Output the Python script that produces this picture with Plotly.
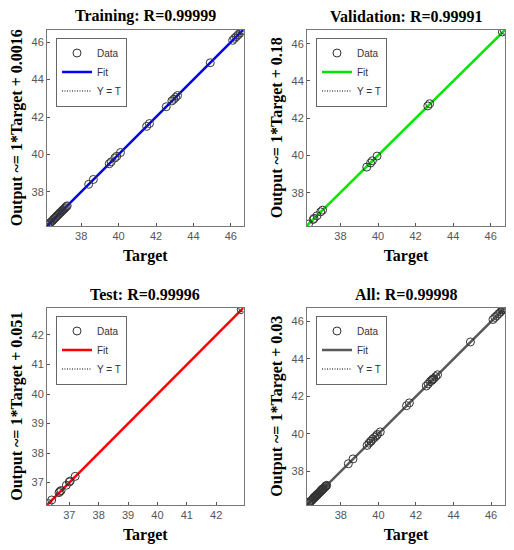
import plotly.graph_objects as go

# targets / outputs for each data split
train_t = [36.22, 36.3, 36.38, 36.45, 36.5, 36.55, 36.6, 36.65, 36.7, 36.75, 36.8, 36.85,
           36.9, 36.95, 37.0, 37.05, 37.1, 37.15, 37.2, 37.25, 38.4, 38.65, 39.5, 39.6,
           39.8, 39.9, 40.1, 41.5, 41.65, 42.55, 42.85, 42.95, 43.05, 43.15, 44.9,
           46.1, 46.2, 46.3, 46.4, 46.5, 46.6, 46.67]
train_o = [36.22, 36.31, 36.38, 36.44, 36.5, 36.56, 36.6, 36.65, 36.71, 36.75, 36.8, 36.86,
           36.9, 36.95, 37.01, 37.05, 37.1, 37.15, 37.21, 37.25, 38.4, 38.66, 39.5, 39.6,
           39.81, 39.9, 40.1, 41.5, 41.65, 42.55, 42.86, 42.95, 43.05, 43.15, 44.9,
           46.1, 46.21, 46.3, 46.4, 46.5, 46.6, 46.67]

val_t = [36.3, 36.55, 36.6, 36.75, 36.95, 37.05, 39.4, 39.6, 39.7, 39.95, 42.65, 42.75, 46.62, 46.72]
val_o = [36.32, 36.57, 36.63, 36.77, 36.98, 37.07, 39.38, 39.6, 39.72, 39.97, 42.66, 42.78, 46.63, 46.72]

test_t = [36.28, 36.4, 36.65, 36.68, 36.72, 36.9, 37.0, 37.03, 37.2, 42.85, 42.9]
test_o = [36.29, 36.41, 36.66, 36.7, 36.73, 36.91, 37.02, 37.05, 37.21, 42.86, 42.92]

all_t = train_t + val_t + test_t
all_o = train_o + val_o + test_o

titles = ["Training: R=0.99999", "Validation: R=0.99991", "Test: R=0.99996", "All: R=0.99998"]
intercepts = [0.0016, 0.18, 0.051, 0.03]
slopes = [1.0, 0.9957, 0.9986, 0.9992]   # shown rounded to 1 in the labels
ylabels = ["Output ~= 1*Target + 0.0016", "Output ~= 1*Target + 0.18",
           "Output ~= 1*Target + 0.051", "Output ~= 1*Target + 0.03"]
fit_colors = ["#0000ff", "#00e600", "#ff0000", "#5a5a5a"]
limits = [[36.17, 46.68], [36.22, 46.76], [36.24, 42.93], [36.2, 46.74]]
ticks = [[38, 40, 42, 44, 46], [38, 40, 42, 44, 46],
         [37, 38, 39, 40, 41, 42], [38, 40, 42, 44, 46]]

# the page body has an 8px margin, so the figure is 8px smaller and offset
OFF = 8
W, H = 514 - OFF, 550 - OFF
# panel boxes in window pixels: left, right, top, bottom
boxes = [(47, 243.5, 29.5, 226), (307, 505, 29.5, 226),
         (47, 243.5, 307.5, 505), (307, 505, 307.5, 505)]

data = [(train_t, train_o), (val_t, val_o), (test_t, test_o), (all_t, all_o)]

serif = "Liberation Serif"
sans = "Liberation Sans"

fig = go.Figure()
layout = dict(width=W, height=H, margin=dict(l=0, r=0, t=0, b=0),
              plot_bgcolor="white", paper_bgcolor="white", annotations=[])

for i in range(4):
    n = "" if i == 0 else str(i + 1)
    lg = "legend" + n
    t, o = data[i]
    lo, hi = limits[i]
    xs = [lo, hi]
    fit_y = [slopes[i] * v + intercepts[i] for v in xs]

    fig.add_trace(go.Scatter(x=xs, y=xs, mode="lines", name="Y = T",
                             line=dict(color="black", width=1, dash="1px,1.5px"),
                             xaxis="x" + n, yaxis="y" + n, legend=lg, legendrank=3))
    fig.add_trace(go.Scatter(x=xs, y=fit_y, mode="lines", name="Fit",
                             line=dict(color=fit_colors[i], width=2.5),
                             xaxis="x" + n, yaxis="y" + n, legend=lg, legendrank=2))
    fig.add_trace(go.Scatter(x=t, y=o, mode="markers", name="Data",
                             marker=dict(symbol="circle-open", size=8, color="#333333",
                                         line=dict(width=1)),
                             xaxis="x" + n, yaxis="y" + n, legend=lg, legendrank=1))

    l, r, tp, b = [v - OFF for v in boxes[i]]
    axis_common = dict(range=limits[i], tickvals=ticks[i], ticks="inside", ticklen=3,
                       tickcolor="#555555", showline=True, linecolor="#777777",
                       linewidth=1, mirror=True, showgrid=False, zeroline=False,
                       tickfont=dict(family=sans, size=11, color="#555555"))
    layout["xaxis" + n] = dict(axis_common, domain=[l / W, r / W], anchor="y" + n,
                               title=dict(text="<b>Target</b>", standoff=8,
                                          font=dict(family=serif, size=16, color="black")))
    layout["yaxis" + n] = dict(axis_common, domain=[1 - b / H, 1 - tp / H], anchor="x" + n,
                               title=dict(text="<b>" + ylabels[i] + "</b>", standoff=4,
                                          font=dict(family=serif, size=16, color="black")))
    layout["annotations"].append(dict(
        text="<b>" + titles[i] + "</b>", xref="paper", yref="paper",
        x=(l + r) / 2 / W, y=1 - (tp - 13) / H, xanchor="center", yanchor="middle",
        showarrow=False, font=dict(family=serif, size=16, color="black")))
    layout[lg] = dict(x=(l + 9) / W, y=1 - (tp + 8) / H, xanchor="left", yanchor="top",
                      bgcolor="white", bordercolor="#666666", borderwidth=1,
                      font=dict(family=sans, size=10, color="#333333"),
                      tracegroupgap=0, itemwidth=30)

fig.update_layout(**layout)
fig.write_html("out.html")
